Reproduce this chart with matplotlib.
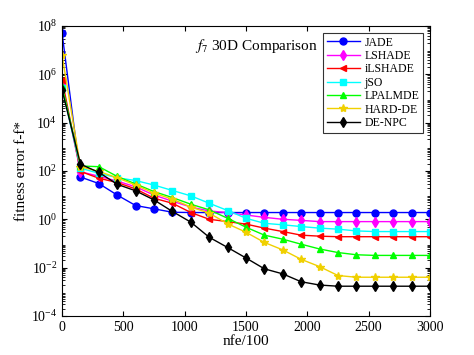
import matplotlib
matplotlib.use("Agg")
import matplotlib.pyplot as plt
from matplotlib.ticker import LogLocator, NullFormatter

plt.rcParams["font.family"] = ["Liberation Serif", "DejaVu Serif"]
plt.rcParams["mathtext.fontset"] = "stix"

nfe = [0, 150, 300, 450, 600, 750, 900, 1050, 1200, 1350, 1500,
       1650, 1800, 1950, 2100, 2250, 2400, 2550, 2700, 2850, 3000]

jade = [5e7, 56, 30, 10, 3.7, 2.7, 1.95, 1.9, 1.9, 1.9, 1.9,
        1.9, 1.9, 1.9, 1.9, 1.9, 1.9, 1.9, 1.9, 1.9, 1.9]
lshade = [4e5, 93, 60, 38, 22, 10, 5.6, 3.2, 2.2, 1.9, 1.5,
          1.2, 1.0, 0.9, 0.8, 0.8, 0.8, 0.8, 0.8, 0.8, 0.8]
ilshade = [6e5, 95, 50, 33, 18, 7.4, 4.6, 1.9, 1.0, 0.8, 0.63,
           0.43, 0.31, 0.22, 0.2, 0.19, 0.19, 0.19, 0.19, 0.19, 0.19]
jso = [2.8e5, 130, 80, 52, 40, 26, 15.5, 9.3, 4.6, 2.3, 1.1,
       0.68, 0.59, 0.5, 0.43, 0.39, 0.33, 0.31, 0.31, 0.31, 0.31]
lpalmde = [3.3e5, 160, 150, 59, 29, 14, 7.9, 4.2, 2.45, 1.1, 0.47,
           0.22, 0.15, 0.093, 0.059, 0.042, 0.034, 0.032, 0.032, 0.032, 0.032]
hardde = [6e6, 150, 95, 52, 26, 12, 6.8, 3.2, 1.8, 0.65, 0.29,
          0.11, 0.054, 0.022, 0.011, 0.0047, 0.004, 0.004, 0.004, 0.004, 0.004]
denpc = [2.2e5, 190, 87, 28, 15, 6.3, 2.1, 0.76, 0.18, 0.068, 0.025,
         0.0089, 0.0055, 0.0026, 0.0019, 0.0017, 0.0017, 0.0017, 0.0017, 0.0017, 0.0017]

series = [
    ("JADE", jade, "#0000ff", "o"),
    ("LSHADE", lshade, "#ff00ff", "d"),
    ("iLSHADE", ilshade, "#ff0000", "<"),
    ("jSO", jso, "#00ffff", "s"),
    ("LPALMDE", lpalmde, "#00ff00", "^"),
    ("HARD-DE", hardde, "#f0d000", "*"),
    ("DE-NPC", denpc, "#000000", "d"),
]

fig = plt.figure(figsize=(4.74, 3.55), dpi=100)
ax = fig.add_axes([0.131, 0.110, 0.776, 0.817])

for name, vals, col, mk in series:
    ms = 6 if mk == "*" else 5
    ax.semilogy(nfe, vals, color=col, marker=mk, markersize=ms, lw=1.0,
                label=name)

ax.set_xlim(0, 3000)
ax.set_ylim(1e-4, 1e8)
ax.set_xticks([0, 500, 1000, 1500, 2000, 2500, 3000])
ax.set_yticks([1e-4, 1e-2, 1e0, 1e2, 1e4, 1e6, 1e8])
ax.yaxis.set_minor_locator(LogLocator(base=10, subs=range(2, 10), numticks=50))
ax.yaxis.set_minor_formatter(NullFormatter())
ax.tick_params(direction="in", top=True, right=True, labelsize=10)
ax.tick_params(which="minor", direction="in", right=True, length=2)

ax.set_xlabel("nfe/100", fontsize=11, labelpad=1)
ax.set_ylabel("fitness error f-f*", fontsize=11, labelpad=2)
ax.text(0.36, 0.93, r"$f_7$ 30D Comparison", transform=ax.transAxes,
        fontsize=11, va="center", ha="left")

leg = ax.legend(loc="upper right", fontsize=8.5, frameon=True, fancybox=False,
                edgecolor="black", borderaxespad=0.6, handlelength=2.8,
                labelspacing=0.12, borderpad=0.3, handletextpad=0.4)
leg.get_frame().set_linewidth(0.8)

fig.savefig("out.png", dpi=100)
